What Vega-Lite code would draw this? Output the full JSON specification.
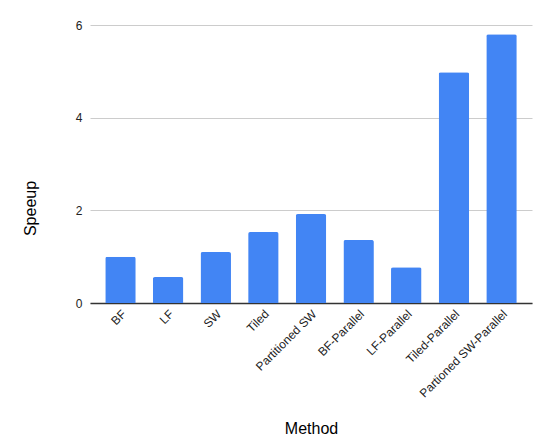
{
  "$schema": "https://vega.github.io/schema/vega-lite/v6.json",
  "width": 442,
  "height": 278,
  "autosize": "none",
  "padding": {"left": 90, "top": 25, "right": 16, "bottom": 138},
  "background": "white",
  "view": {"stroke": null},
  "config": {
    "font": "Liberation Sans",
    "axis": {"labelFont": "Liberation Sans", "titleFont": "Liberation Sans", "labelColor": "#222222", "titleColor": "#000000", "titleFontWeight": "normal"}
  },
  "data": {
    "values": [
      {"Method": "BF", "Speeup": 1.0},
      {"Method": "LF", "Speeup": 0.56},
      {"Method": "SW", "Speeup": 1.1},
      {"Method": "Tiled", "Speeup": 1.53},
      {"Method": "Partitioned SW", "Speeup": 1.92},
      {"Method": "BF-Parallel", "Speeup": 1.36},
      {"Method": "LF-Parallel", "Speeup": 0.77},
      {"Method": "Tiled-Parallel", "Speeup": 4.98},
      {"Method": "Partioned SW-Parallel", "Speeup": 5.8}
    ]
  },
  "mark": {"type": "bar", "color": "#4285F4", "cornerRadiusTopLeft": 2, "cornerRadiusTopRight": 2},
  "encoding": {
    "x": {
      "field": "Method",
      "type": "nominal",
      "sort": null,
      "scale": {"paddingInner": 0.36, "paddingOuter": 0.32},
      "axis": {
        "title": "Method",
        "titleFontSize": 16,
        "titleY": 125,
        "titleBaseline": "middle",
        "labelAngle": -45,
        "labelFontSize": 12,
        "labelPadding": 5,
        "ticks": false,
        "domainColor": "#333333",
        "domainWidth": 1.3
      }
    },
    "y": {
      "field": "Speeup",
      "type": "quantitative",
      "scale": {"domain": [0, 6]},
      "axis": {
        "title": "Speeup",
        "titleFontSize": 16,
        "titleX": -60,
        "titleY": 183,
        "titleBaseline": "middle",
        "values": [0, 2, 4, 6],
        "labelFontSize": 12,
        "labelPadding": 8,
        "ticks": false,
        "domain": false,
        "gridColor": "#cccccc"
      }
    }
  }
}
